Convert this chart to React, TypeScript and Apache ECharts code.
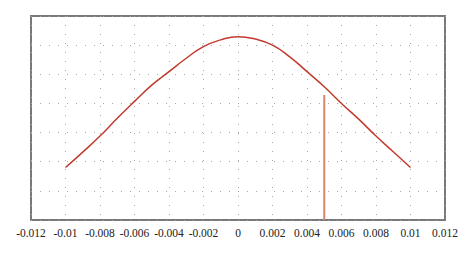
import React, { useEffect, useRef } from "react";
import * as echarts from "echarts";

const xValues = [-0.01, -0.009, -0.008, -0.007, -0.006, -0.005, -0.004, -0.003, -0.002, -0.001, 0, 0.001, 0.002, 0.003, 0.004, 0.005, 0.006, 0.007, 0.008, 0.009, 0.01];
const curveValues = [1.8, 2.33, 2.88, 3.49, 4.07, 4.63, 5.09, 5.55, 5.95, 6.18, 6.29, 6.21, 6.0, 5.6, 5.09, 4.57, 4.0, 3.46, 2.88, 2.34, 1.8];
const markerX = [0.005, 0.005];
const markerY = [0, 4.29];

export default function App() {
  const ref = useRef<HTMLDivElement>(null);
  useEffect(() => {
    if (!ref.current) return;
    const chart = echarts.init(ref.current, null, { renderer: "svg" });
    const dotted = { color: "#a8a8a8", width: 1, type: [1, 8] as number[] };
    chart.setOption({
      animation: false,
      backgroundColor: "#ffffff",
      grid: {
        left: 31,
        right: 29,
        top: 16,
        bottom: 33,
        show: true,
        borderColor: "#7a7a7a",
        borderWidth: 2,
        backgroundColor: "transparent",
      },
      xAxis: {
        type: "value",
        min: -0.012,
        max: 0.012,
        interval: 0.002,
        axisLine: { show: false },
        axisTick: { show: false },
        splitLine: { show: true, lineStyle: dotted },
        axisLabel: {
          margin: 7,
          fontFamily: "Liberation Serif",
          fontSize: 11.5,
          color: "#222",
          formatter: (v: number) => String(+v.toFixed(3)),
        },
      },
      yAxis: {
        type: "value",
        min: 0,
        max: 7,
        interval: 1,
        axisLine: { show: false },
        axisTick: { show: false },
        axisLabel: { show: false },
        splitLine: { show: true, lineStyle: dotted },
      },
      series: [
        {
          type: "line",
          data: xValues.map((x, i) => [x, curveValues[i]]),
          smooth: true,
          symbol: "none",
          lineStyle: { color: "#c23a2e", width: 1.5 },
          z: 3,
        },
        {
          type: "line",
          data: markerX.map((x, i) => [x, markerY[i]]),
          symbol: "none",
          lineStyle: { color: "#d6866c", width: 2 },
          z: 2,
        },
      ],
    });
    return () => chart.dispose();
  }, []);
  return (
    <div
      ref={ref}
      style={{ position: "fixed", left: 0, top: 0, width: 474, height: 253 }}
    />
  );
}
